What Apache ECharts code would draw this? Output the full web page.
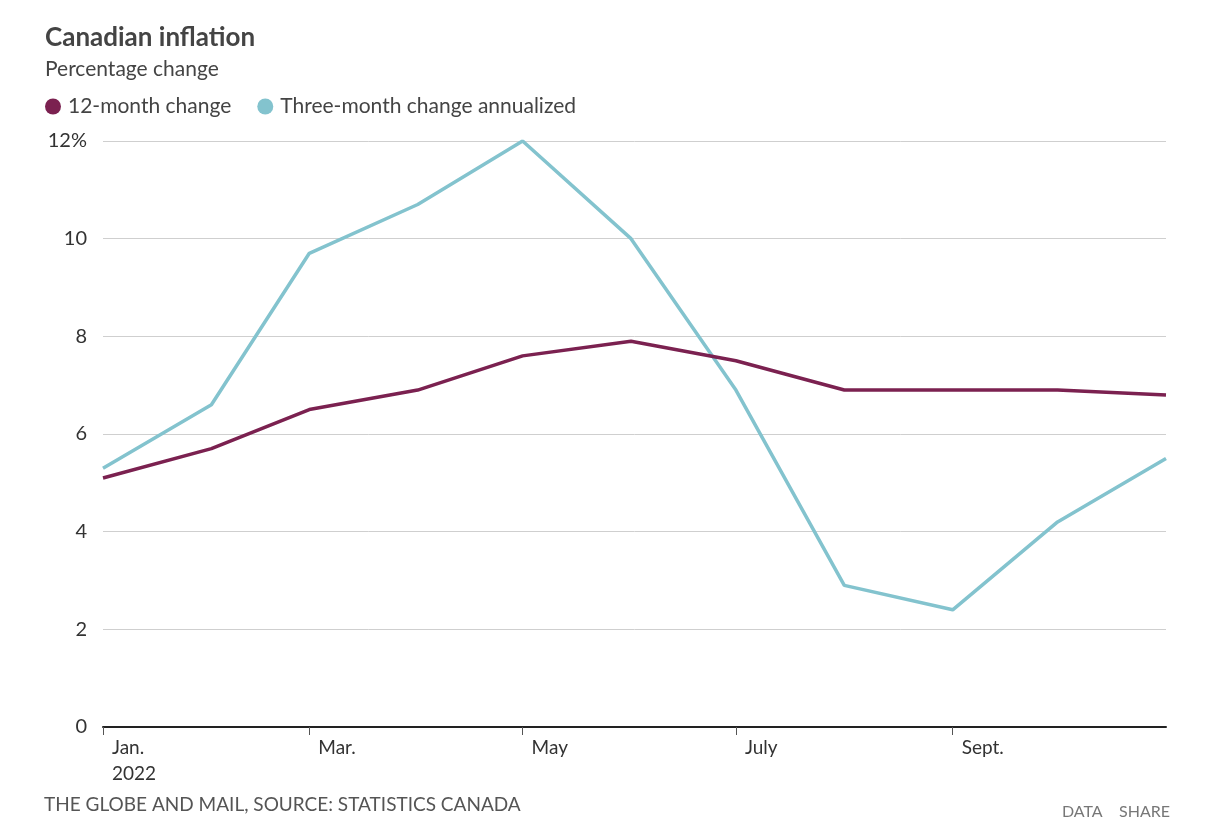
<!DOCTYPE html>
<html>
<head>
<meta charset="utf-8">
<script src="https://cdn.jsdelivr.net/npm/echarts@6/dist/echarts.min.js"></script>
<style>
html, body { margin: 0; padding: 0; background: #fff; }
#chart { width: 1214px; height: 840px; }
</style>
</head>
<body>
<div id="chart"></div>
<script>
// data (monthly, first of month)
var months = ['2022-01-01', '2022-02-01', '2022-03-01', '2022-04-01', '2022-05-01', '2022-06-01',
              '2022-07-01', '2022-08-01', '2022-09-01', '2022-10-01', '2022-11-01']
var twelveMonth = [5.1, 5.7, 6.5, 6.9, 7.6, 7.9, 7.5, 6.9, 6.9, 6.9, 6.8]
var threeMonth = [5.3, 6.6, 9.7, 10.7, 12.0, 10.0, 6.9, 2.9, 2.4, 4.2, 5.5]
var tickDates = ['2022-01-01', '2022-03-01', '2022-05-01', '2022-07-01', '2022-09-01']
var tickLabels = ['Jan.\n2022', 'Mar.', 'May', 'July', 'Sept.']
var yTicks = [0, 2, 4, 6, 8, 10, 12]

var font = 'Lato, "Open Sans", sans-serif'
var chart = echarts.init(document.getElementById('chart'))

// x position = days since the first month, so months keep their real lengths
var t0 = Date.parse(months[0] + 'T00:00:00Z')
function dayOf(d) { return Math.round((Date.parse(d + 'T00:00:00Z') - t0) / 86400000) }
var tickDays = tickDates.map(dayOf)
function toSeries(values) {
    return months.map((m, i) => [dayOf(m), values[i]])
}

chart.setOption({
    animation: false,
    title: {
        text: 'Canadian inflation',
        subtext: 'Percentage change',
        left: 40,
        top: 20,
        itemGap: 8,
        textStyle: { fontFamily: font, fontSize: 26, fontWeight: 'bold', color: '#444' },
        subtextStyle: { fontFamily: font, fontSize: 21, color: '#444' }
    },
    legend: {
        left: 40,
        top: 91,
        icon: 'circle',
        itemWidth: 16,
        itemHeight: 16,
        itemGap: 26,
        textStyle: { fontFamily: font, fontSize: 21, color: '#444', padding: [0, 0, 0, 2] },
        data: ['12-month change', 'Three-month change annualized']
    },
    grid: {
        left: 103,
        right: 48,
        top: 141,
        bottom: 113,
        containLabel: false
    },
    xAxis: {
        type: 'value',
        min: 0,
        max: dayOf(months[months.length - 1]),
        axisLine: { lineStyle: { color: '#222', width: 2 } },
        axisTick: {
            show: true,
            customValues: tickDays,
            length: 8,
            lineStyle: { color: '#555', width: 1 }
        },
        axisLabel: {
            customValues: tickDays,
            formatter: function (v) {
                var i = tickDays.indexOf(Math.round(v))
                return i >= 0 ? tickLabels[i] : ''
            },
            align: 'left',
            padding: [0, 0, 0, 9],
            margin: 8,
            lineHeight: 26,
            fontFamily: font,
            fontSize: 19,
            color: '#333'
        },
        splitLine: { show: false }
    },
    yAxis: {
        type: 'value',
        min: 0,
        max: 12,
        interval: 2,
        axisLine: { show: false },
        axisTick: { show: false },
        axisLabel: {
            margin: 16,
            fontFamily: font,
            fontSize: 20,
            color: '#333',
            formatter: function (v) { return v === yTicks[yTicks.length - 1] ? v + '%' : String(v) }
        },
        splitLine: { lineStyle: { color: '#cfcfcf', width: 1 } }
    },
    series: [
        {
            name: '12-month change',
            type: 'line',
            data: toSeries(twelveMonth),
            symbol: 'none',
            color: '#7b2150',
            lineStyle: { width: 3.5 },
            z: 3
        },
        {
            name: 'Three-month change annualized',
            type: 'line',
            data: toSeries(threeMonth),
            symbol: 'none',
            color: '#83c3ce',
            lineStyle: { width: 3.5 },
            z: 2
        }
    ],
    graphic: [
        {
            type: 'text',
            left: 44,
            top: 795,
            style: { text: 'THE GLOBE AND MAIL, SOURCE: STATISTICS CANADA', font: '19px ' + font, fill: '#555' }
        },
        {
            type: 'text',
            right: 44,
            top: 804,
            style: { text: 'DATA    SHARE', font: '16px ' + font, fill: '#777' }
        }
    ]
})
</script>
</body>
</html>
